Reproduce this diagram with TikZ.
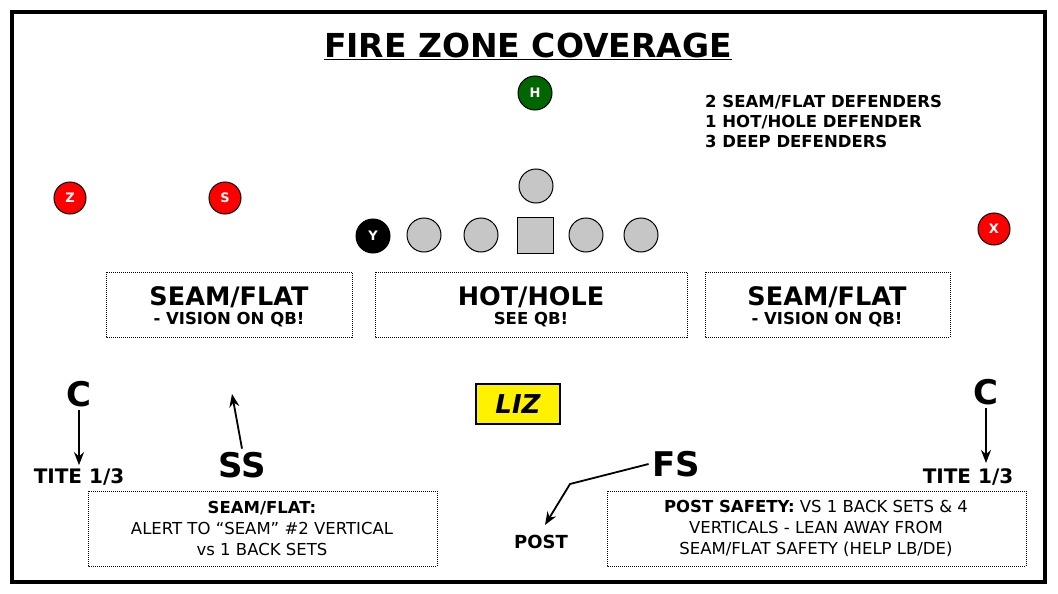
\documentclass[tikz,border=0pt]{standalone}
\usepackage{fontspec}
\setmainfont{DejaVu Sans}
\usetikzlibrary{arrows.meta}
\begin{document}
\begin{tikzpicture}[x=1pt,y=-1pt,
  pl/.style={circle,draw=black,line width=1pt,minimum size=34pt,inner sep=0pt,fill=#1},
  sk/.style={circle,draw=black,line width=1pt,minimum size=32pt,inner sep=0pt,fill=red,text=white,font=\bfseries\fontsize{13}{13}\selectfont},
  zb/.style={draw=black,densely dotted,line width=1pt},
  big/.style={font=\bfseries\fontsize{25.5}{25.5}\selectfont},
  sm/.style={font=\bfseries\fontsize{16.5}{16.5}\selectfont},
  lt/.style={font=\fontsize{16.5}{21}\selectfont,align=center},
  letter/.style={font=\bfseries\fontsize{34}{34}\selectfont},
  ar/.style={-{Stealth[length=13pt,width=10pt]},line width=1.8pt}]
\useasboundingbox (0,0) rectangle (1058,594);
\fill[white] (0,0) rectangle (1058,594);
\draw[line width=4pt] (12,12) rectangle (1045,582);
\node (title) at (528,46) {\bfseries\fontsize{33}{33}\selectfont\underline{FIRE ZONE COVERAGE}};
\node[pl=green!40!black,text=white,font=\bfseries\fontsize{13}{13}\selectfont] (h) at (535,93) {H};
\node[anchor=north west,align=left,font=\bfseries\fontsize{16.5}{20}\selectfont,inner sep=0pt] (info) at (705,95) {2 SEAM/FLAT DEFENDERS\\1 HOT/HOLE DEFENDER\\3 DEEP DEFENDERS};
\node[sk] (z) at (70,198) {Z};
\node[sk] (s) at (225,198) {S};
\node[sk] (x) at (994,229) {X};
\node[pl=gray!45] (qb) at (536,186) {};
\node[pl=black,text=white,font=\bfseries\fontsize{13}{13}\selectfont] (y) at (373,236) {Y};
\node[pl=gray!45] (lt) at (424,235) {};
\node[pl=gray!45] (lg) at (481,235) {};
\node[draw=black,line width=1pt,fill=gray!45,minimum size=36pt,inner sep=0pt] (c) at (535,235) {};
\node[pl=gray!45] (rg) at (586,235) {};
\node[pl=gray!45] (rt) at (641,235) {};
\draw[zb] (106,272) rectangle (352,337);
\draw[zb] (375,272) rectangle (687,337);
\draw[zb] (705,272) rectangle (950,337);
\node[big] (b1) at (229,297) {SEAM/FLAT};
\node[sm] (b1s) at (229,320) {- VISION ON QB!};
\node[big] (b2) at (531,297) {HOT/HOLE};
\node[sm] (b2s) at (531,320) {SEE QB!};
\node[big] (b3) at (827,297) {SEAM/FLAT};
\node[sm] (b3s) at (827,320) {- VISION ON QB!};
\node[draw=black,line width=2.5pt,fill=yellow,minimum width=84pt,minimum height=40pt,font=\bfseries\itshape\fontsize{26}{26}\selectfont] (liz) at (518,404) {LIZ};
\node[letter] (cl) at (79,394) {C};
\node[letter] (cr) at (986,392) {C};
\node[font=\bfseries\fontsize{20}{20}\selectfont] (tl) at (79,477) {TITE 1/3};
\node[font=\bfseries\fontsize{20}{20}\selectfont] (tr) at (968,477) {TITE 1/3};
\draw[ar] (cl.south) -- (tl.north -| cl.south);
\draw[ar] (cr.south) -- (986,463);
\node[letter] (ss) at (242,465) {SS};
\coordinate (ssend) at (232,394);
\draw[ar] (ss.north) -- (ssend);
\node[letter] (fs) at (676,464) {FS};
\coordinate (post) at (545,525);
\draw[ar] (fs.west) -- (570,484) -- (post);
\node[font=\bfseries\fontsize{18}{18}\selectfont] (postl) at (541,542) {POST};
\draw[zb] (88,491) rectangle (437,566);
\node[lt] (l1) at (262,528) {\textbf{SEAM/FLAT:}\\ALERT TO “SEAM” \#2 VERTICAL\\vs 1 BACK SETS};
\draw[zb] (607,491) rectangle (1026,566);
\node[lt] (l2) at (816,528) {\textbf{POST SAFETY:} VS 1 BACK SETS \& 4\\VERTICALS - LEAN AWAY FROM\\SEAM/FLAT SAFETY (HELP LB/DE)};
\end{tikzpicture}
\end{document}
